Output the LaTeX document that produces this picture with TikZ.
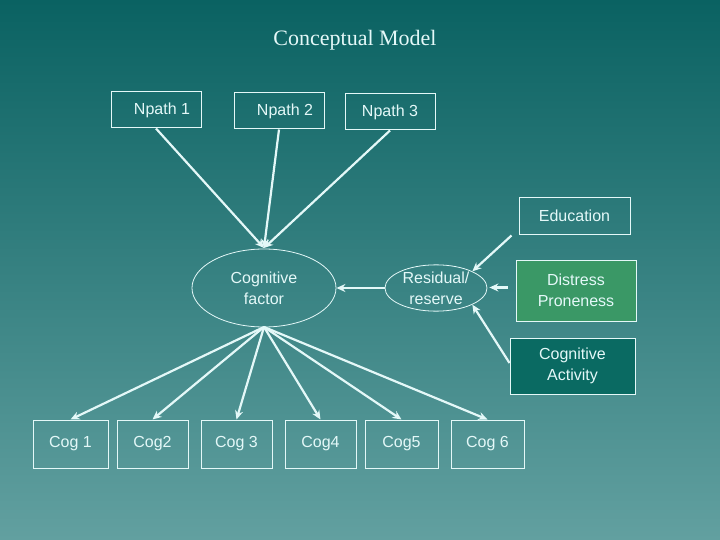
\documentclass[tikz,border=0pt]{standalone}
\usepackage{fontspec}
\setmainfont{Liberation Sans}
\newfontfamily\titlefont{Liberation Serif}
\usetikzlibrary{shapes.geometric,arrows.meta}
\definecolor{topc}{HTML}{0A6262}
\definecolor{botc}{HTML}{62A0A0}
\definecolor{fg}{HTML}{E4F8F8}
\definecolor{dgreen}{HTML}{3A9866}
\definecolor{dteal}{HTML}{0A6A62}
\begin{document}
\begin{tikzpicture}[x=1pt,y=-1pt,
  box/.style={draw=fg,line width=1pt,text=fg,font=\fontsize{16}{21}\selectfont,align=center,inner sep=0pt},
  ell/.style={ellipse,draw=fg,line width=0.8pt,text=fg,font=\fontsize{16}{21}\selectfont,align=center,inner sep=0pt},
  con/.style={draw=fg,line width=2.2pt,-{Stealth[length=9pt,width=8pt]}}]
\shade[top color=topc,bottom color=botc] (0,0) rectangle (720,540);
\useasboundingbox (0,0) rectangle (720,540);
\node[text=fg,font=\titlefont\fontsize{22}{24}\selectfont] (title) at (355,40) {Conceptual Model};
\node[box,minimum width=90pt,minimum height=36pt] (n1) at (156,110) {\hspace*{12pt}Npath 1};
\node[box,minimum width=90pt,minimum height=36pt] (n2) at (279,111) {\hspace*{12pt}Npath 2};
\node[box,minimum width=90pt,minimum height=36pt] (n3) at (390,112) {Npath 3};
\node[box,minimum width=111pt,minimum height=36pt] (edu) at (574.5,216) {Education};
\node[box,fill=dgreen,minimum width=120pt,minimum height=61pt] (dis) at (576,290.5) {Distress\\Proneness};
\node[box,fill=dteal,minimum width=125pt,minimum height=56pt] (act) at (572.5,366) {Cognitive\\Activity};
\node[ell,minimum width=144pt,minimum height=78pt] (cf) at (264,288) {Cognitive\\factor};
\node[ell,minimum width=102pt,minimum height=46pt] (res) at (436,288) {Residual/\\reserve};
\foreach \n/\t/\x/\w in {c1/Cog 1/70.5/75,c2/Cog2/152.5/71,c3/Cog 3/236.5/71,c4/Cog4/320.5/71,c5/Cog5/401.5/73,c6/Cog 6/487.5/73}
  \node[box,minimum width=\w pt,minimum height=48pt] (\n) at (\x,444) {\t};
\coordinate (cft) at (264,248);
\coordinate (cfb) at (264,327);
\draw[con] (n1.south) -- (cft);
\draw[con] (n2.south) -- (cft);
\draw[con] (n3.south) -- (cft);
\foreach \n in {c1,c2,c3,c4,c5,c6} \draw[con] (cfb) -- (\n.north);
\draw[con] (res.west) -- (cf.east);
\draw[con] (edu.south west) ++(-7,1) coordinate (ea) (ea) -- (res.north east);
\draw[con] (dis.west) ++(-8,-3) coordinate (da) (da) -- ([xshift=2pt]res.east |- da);
\draw[con] (act.west) ++(0,-3) coordinate (aa) (aa) -- (res.south east);
\end{tikzpicture}
\end{document}
